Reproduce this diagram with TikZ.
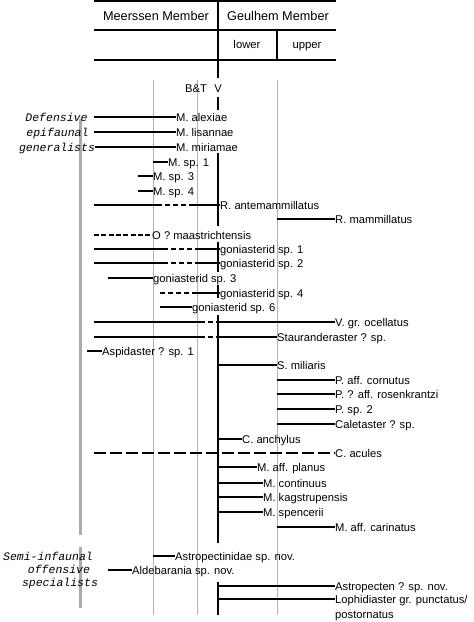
\documentclass[tikz,border=0pt]{standalone}
\usepackage{fontspec}
\setmainfont{Liberation Sans}
\newfontfamily\monofam{Liberation Mono}
\begin{document}
\begin{tikzpicture}[x=1pt,y=-1pt,
 lab/.style={anchor=west,inner sep=0pt,font=\fontsize{11.2}{13}\selectfont,text height=8.2pt,text depth=0pt},
 grp/.style={inner sep=0pt,font=\monofam\itshape\fontsize{11.5}{13}\selectfont,text height=8pt,text depth=0pt},
 hdr/.style={inner sep=0pt,font=\fontsize{12.7}{14}\selectfont,text height=9pt,text depth=0pt},
 sublab/.style={inner sep=0pt,font=\fontsize{11.3}{13}\selectfont,text height=8pt,text depth=0pt},
 bl/.style={line width=1.2pt},
 dsh/.style={line width=1.2pt,dash pattern=on 5pt off 3pt},
 sdsh/.style={line width=1.2pt,dash pattern=on 5pt off 2.3pt},
 ldsh/.style={line width=1.2pt,dash pattern=on 12pt off 4pt},
 gry/.style={line width=1pt,color=black!30},
 thickgry/.style={line width=3pt,color=black!33}]
\useasboundingbox (0,0) rectangle (474,622);
% gray guide lines
\draw[gry] (153,80) coordinate (g1a) -- (153,615) coordinate (g1b);
\draw[gry] (197,80) coordinate (g2a) -- (197,615) coordinate (g2b);
\draw[gry] (277,80) coordinate (g3a) -- (277,615) coordinate (g3b);
\draw[thickgry] (80,119) coordinate (t1) -- (80,535) coordinate (t2);
\draw[thickgry] (80,547) coordinate (t3) -- (80,608) coordinate (t4);
% header
\draw[line width=2.5pt] (94,1.2) coordinate (h1) -- (336,1.2) coordinate (h2);
\draw[bl] (94,30) coordinate (h3) -- (336,30) coordinate (h4);
\draw[bl] (94,60) coordinate (h5) -- (336,60) coordinate (h6);
\draw[bl] (277,30) coordinate (h7) -- (277,60) coordinate (h8);
\node[hdr] (mm) at (156,16) {Meerssen Member};
\node[hdr] (gm) at (278,16) {Geulhem Member};
\node[sublab] (lw) at (247,44) {lower};
\node[sublab] (up) at (307,44) {upper};
\node[lab,anchor=center] (bt) at (196,88) {B\&T};
\node[lab,anchor=center] (vv) at (218,88) {V};
% main vertical line
\draw[bl] (218,0) coordinate (m0) -- (218,78) coordinate (m1);
\draw[bl] (218,97) coordinate (m2) -- (218,110) coordinate (m3);
\draw[bl] (218,153) coordinate (m4) -- (218,226) coordinate (m5);
\draw[bl] (218,242) coordinate (m6) -- (218,272) coordinate (m7);
\draw[bl] (218,285) coordinate (m8) -- (218,298) coordinate (m9);
\draw[bl] (218,315) coordinate (m10) -- (218,543) coordinate (m11);
\draw[bl] (218,582) coordinate (m12) -- (218,615) coordinate (m13);
% group labels
\node[grp] (d1) at (56.5,117) {Defensive};
\node[grp] (d2) at (57.5,132) {epifaunal};
\node[grp] (d3) at (57,147) {generalists};
\node[grp] (s1) at (48,556) {Semi-infaunal};
\node[grp] (s2) at (59,569) {offensive};
\node[grp] (s3) at (60,582) {specialists};
% taxa
\node[lab] (a1) at (176,117) {M. alexiae};
\draw[bl] (94,117) coordinate (c1) -- (a1.west);
\node[lab] (a2) at (176,132) {M. lisannae};
\draw[bl] (94,132) coordinate (c2) -- (a2.west);
\node[lab] (a3) at (176,147) {M. miriamae};
\draw[bl] (95,147) coordinate (c3) -- (a3.west);
\node[lab] (a4) at (168,162) {M. sp. 1};
\draw[bl] (153,162) coordinate (c4) -- (a4.west);
\node[lab] (a5) at (153,176) {M. sp. 3};
\draw[bl] (138,176) coordinate (c5) -- (a5.west);
\node[lab] (a6) at (153,191) {M. sp. 4};
\draw[bl] (138,191) coordinate (c6) -- (a6.west);
\node[lab] (a7) at (220,205) {R. antemammillatus};
\draw[bl] (94,205) coordinate (c7) -- (157,205) coordinate (c7b);
\draw[dsh] (c7b) -- (190,205) coordinate (c7c);
\draw[bl] (c7c) -- (a7.west);
\node[lab] (a8) at (335,219) {R. mammillatus};
\draw[bl] (277,219) coordinate (c8) -- (a8.west);
\node[lab] (a9) at (152,235) {O ? maastrichtensis};
\draw[sdsh] (94,235) coordinate (c9) -- (a9.west);
\node[lab] (a10) at (220,249) {goniasterid sp. 1};
\draw[bl] (94,249) coordinate (c10) -- (163,249) coordinate (c10b);
\draw[dsh] (c10b) -- (197,249) coordinate (c10c);
\draw[bl] (c10c) -- (a10.west);
\node[lab] (a11) at (220,263) {goniasterid sp. 2};
\draw[bl] (94,263) coordinate (c11) -- (163,263) coordinate (c11b);
\draw[dsh] (c11b) -- (197,263) coordinate (c11c);
\draw[bl] (c11c) -- (a11.west);
\node[lab] (a12) at (153,278) {goniasterid sp. 3};
\draw[bl] (108,278) coordinate (c12) -- (a12.west);
\node[lab] (a13) at (220,293) {goniasterid sp. 4};
\draw[dsh] (160,293) coordinate (c13) -- (197,293) coordinate (c13b);
\draw[bl] (c13b) -- (a13.west);
\node[lab] (a14) at (192,307) {goniasterid sp. 6};
\draw[bl] (160,307) coordinate (c14) -- (a14.west);
\node[lab] (a15) at (335,322) {V. gr. ocellatus};
\draw[bl] (94,322) coordinate (c15) -- (200,322) coordinate (c15b);
\draw[dsh] (c15b) -- (218,322) coordinate (c15c);
\draw[bl] (c15c) -- (a15.west);
\node[lab] (a16) at (277,337) {Stauranderaster ? sp.};
\draw[bl] (94,337) coordinate (c16) -- (200,337) coordinate (c16b);
\draw[dsh] (c16b) -- (218,337) coordinate (c16c);
\draw[bl] (c16c) -- (a16.west);
\node[lab] (a17) at (102,351) {Aspidaster ? sp. 1};
\draw[bl] (87,351) coordinate (c17) -- (a17.west);
\node[lab] (a18) at (277,365) {S. miliaris};
\draw[bl] (218,365) coordinate (c18) -- (a18.west);
\node[lab] (a19) at (335,380) {P. aff. cornutus};
\draw[bl] (277,380) coordinate (c19) -- (a19.west);
\node[lab] (a20) at (335,394) {P. ? aff. rosenkrantzi};
\draw[bl] (277,394) coordinate (c20) -- (a20.west);
\node[lab] (a21) at (335,409) {P. sp. 2};
\draw[bl] (277,409) coordinate (c21) -- (a21.west);
\node[lab] (a22) at (335,424) {Caletaster ? sp.};
\draw[bl] (277,424) coordinate (c22) -- (a22.west);
\node[lab] (a23) at (242,439) {C. anchylus};
\draw[bl] (218,439) coordinate (c23) -- (a23.west);
\node[lab] (a24) at (335,453) {C. acules};
\draw[ldsh] (94,453) coordinate (c24) -- (a24.west);
\node[lab] (a25) at (257,467) {M. aff. planus};
\draw[bl] (218,467) coordinate (c25) -- (a25.west);
\node[lab] (a26) at (263,483) {M. continuus};
\draw[bl] (218,483) coordinate (c26) -- (a26.west);
\node[lab] (a27) at (263,497) {M. kagstrupensis};
\draw[bl] (218,497) coordinate (c27) -- (a27.west);
\node[lab] (a28) at (263,512) {M. spencerii};
\draw[bl] (218,512) coordinate (c28) -- (a28.west);
\node[lab] (a29) at (335,527) {M. aff. carinatus};
\draw[bl] (277,527) coordinate (c29) -- (a29.west);
\node[lab] (a30) at (175,556) {Astropectinidae sp. nov.};
\draw[bl] (153,556) coordinate (c30) -- (a30.west);
\node[lab] (a31) at (132,570) {Aldebarania sp. nov.};
\draw[bl] (108,570) coordinate (c31) -- (a31.west);
\node[lab] (a32) at (335,586) {Astropecten ? sp. nov.};
\draw[bl] (218,586) coordinate (c32) -- (a32.west);
\node[lab] (a33) at (335,599) {Lophidiaster gr. punctatus/};
\draw[bl] (218,599) coordinate (c33) -- (a33.west);
\node[lab] (a34) at (335,614) {postornatus};
\end{tikzpicture}
\end{document}
